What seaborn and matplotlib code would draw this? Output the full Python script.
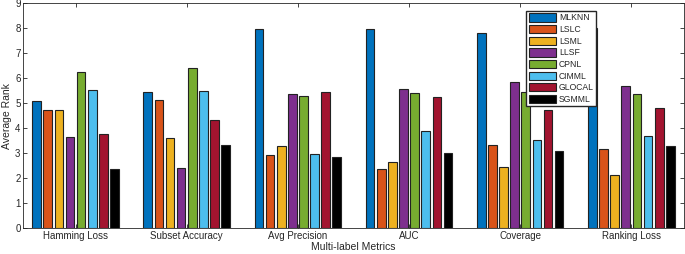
import pandas as pd
import seaborn as sns
import matplotlib.pyplot as plt
from matplotlib.ticker import MultipleLocator

metrics = ["Hamming Loss", "Subset Accuracy", "Avg Precision", "AUC", "Coverage", "Ranking Loss"]
models = ["MLKNN", "LSLC", "LSML", "LLSF", "CPNL", "CIMML", "GLOCAL", "SGMML"]

mlknn = [5.09, 5.44, 7.97, 7.96, 7.80, 8.00]
lslc = [4.72, 5.13, 2.92, 2.36, 3.31, 3.16]
lsml = [4.72, 3.61, 3.29, 2.64, 2.44, 2.13]
llsf = [3.65, 2.40, 5.36, 5.55, 5.83, 5.68]
cpnl = [6.25, 6.41, 5.28, 5.40, 5.43, 5.36]
cimml = [5.52, 5.49, 2.97, 3.89, 3.52, 3.67]
glocal = [3.77, 4.33, 5.43, 5.25, 4.71, 4.81]
sgmml = [2.36, 3.31, 2.84, 3.01, 3.09, 3.28]

ranks = [mlknn, lslc, lsml, llsf, cpnl, cimml, glocal, sgmml]

colours = ["#0072BD", "#D95319", "#EDB120", "#7E2F8E",
           "#77AC30", "#4DBEEE", "#A2142F", "#000000"]

### DATA FRAME ###
df = pd.DataFrame(
    [(m, metric, v) for m, vals in zip(models, ranks) for metric, v in zip(metrics, vals)],
    columns=["Model", "Metric", "Average Rank"]
)

### PLOT ###
sns.set_style("ticks")
plt.rcParams["font.family"] = ["Liberation Sans", "DejaVu Sans"]

fig = plt.figure(figsize=(6.85, 2.54), dpi=100)
ax = fig.add_axes([0.034, 0.102, 0.964, 0.886])

sns.barplot(data=df, x="Metric", y="Average Rank", hue="Model",
            order=metrics, hue_order=models, palette=colours,
            width=0.8, gap=0.22, edgecolor="#222222", linewidth=0.8,
            saturation=1, ax=ax)

ax.set_xlim(-0.47, 5.47)
ax.set_ylim(0, 9)
ax.yaxis.set_major_locator(MultipleLocator(1))
ax.tick_params(direction="in", top=True, right=True, labelsize=7,
               length=3, width=0.6, colors="#262626", pad=2)
for s in ax.spines.values():
    s.set_visible(True)
    s.set_color("#262626")
    s.set_linewidth(0.6)

ax.set_xlabel("Multi-label Metrics", fontsize=7.5, labelpad=1)
ax.set_ylabel("Average Rank", fontsize=7.5, labelpad=2)

ax.legend(loc="upper left", bbox_to_anchor=(0.755, 0.985), fontsize=6.2,
          handlelength=3.2, handleheight=1.1, labelspacing=0.3,
          borderpad=0.3, handletextpad=0.3, fancybox=False,
          edgecolor="#262626", framealpha=1)

plt.savefig("out.png", dpi=100)
